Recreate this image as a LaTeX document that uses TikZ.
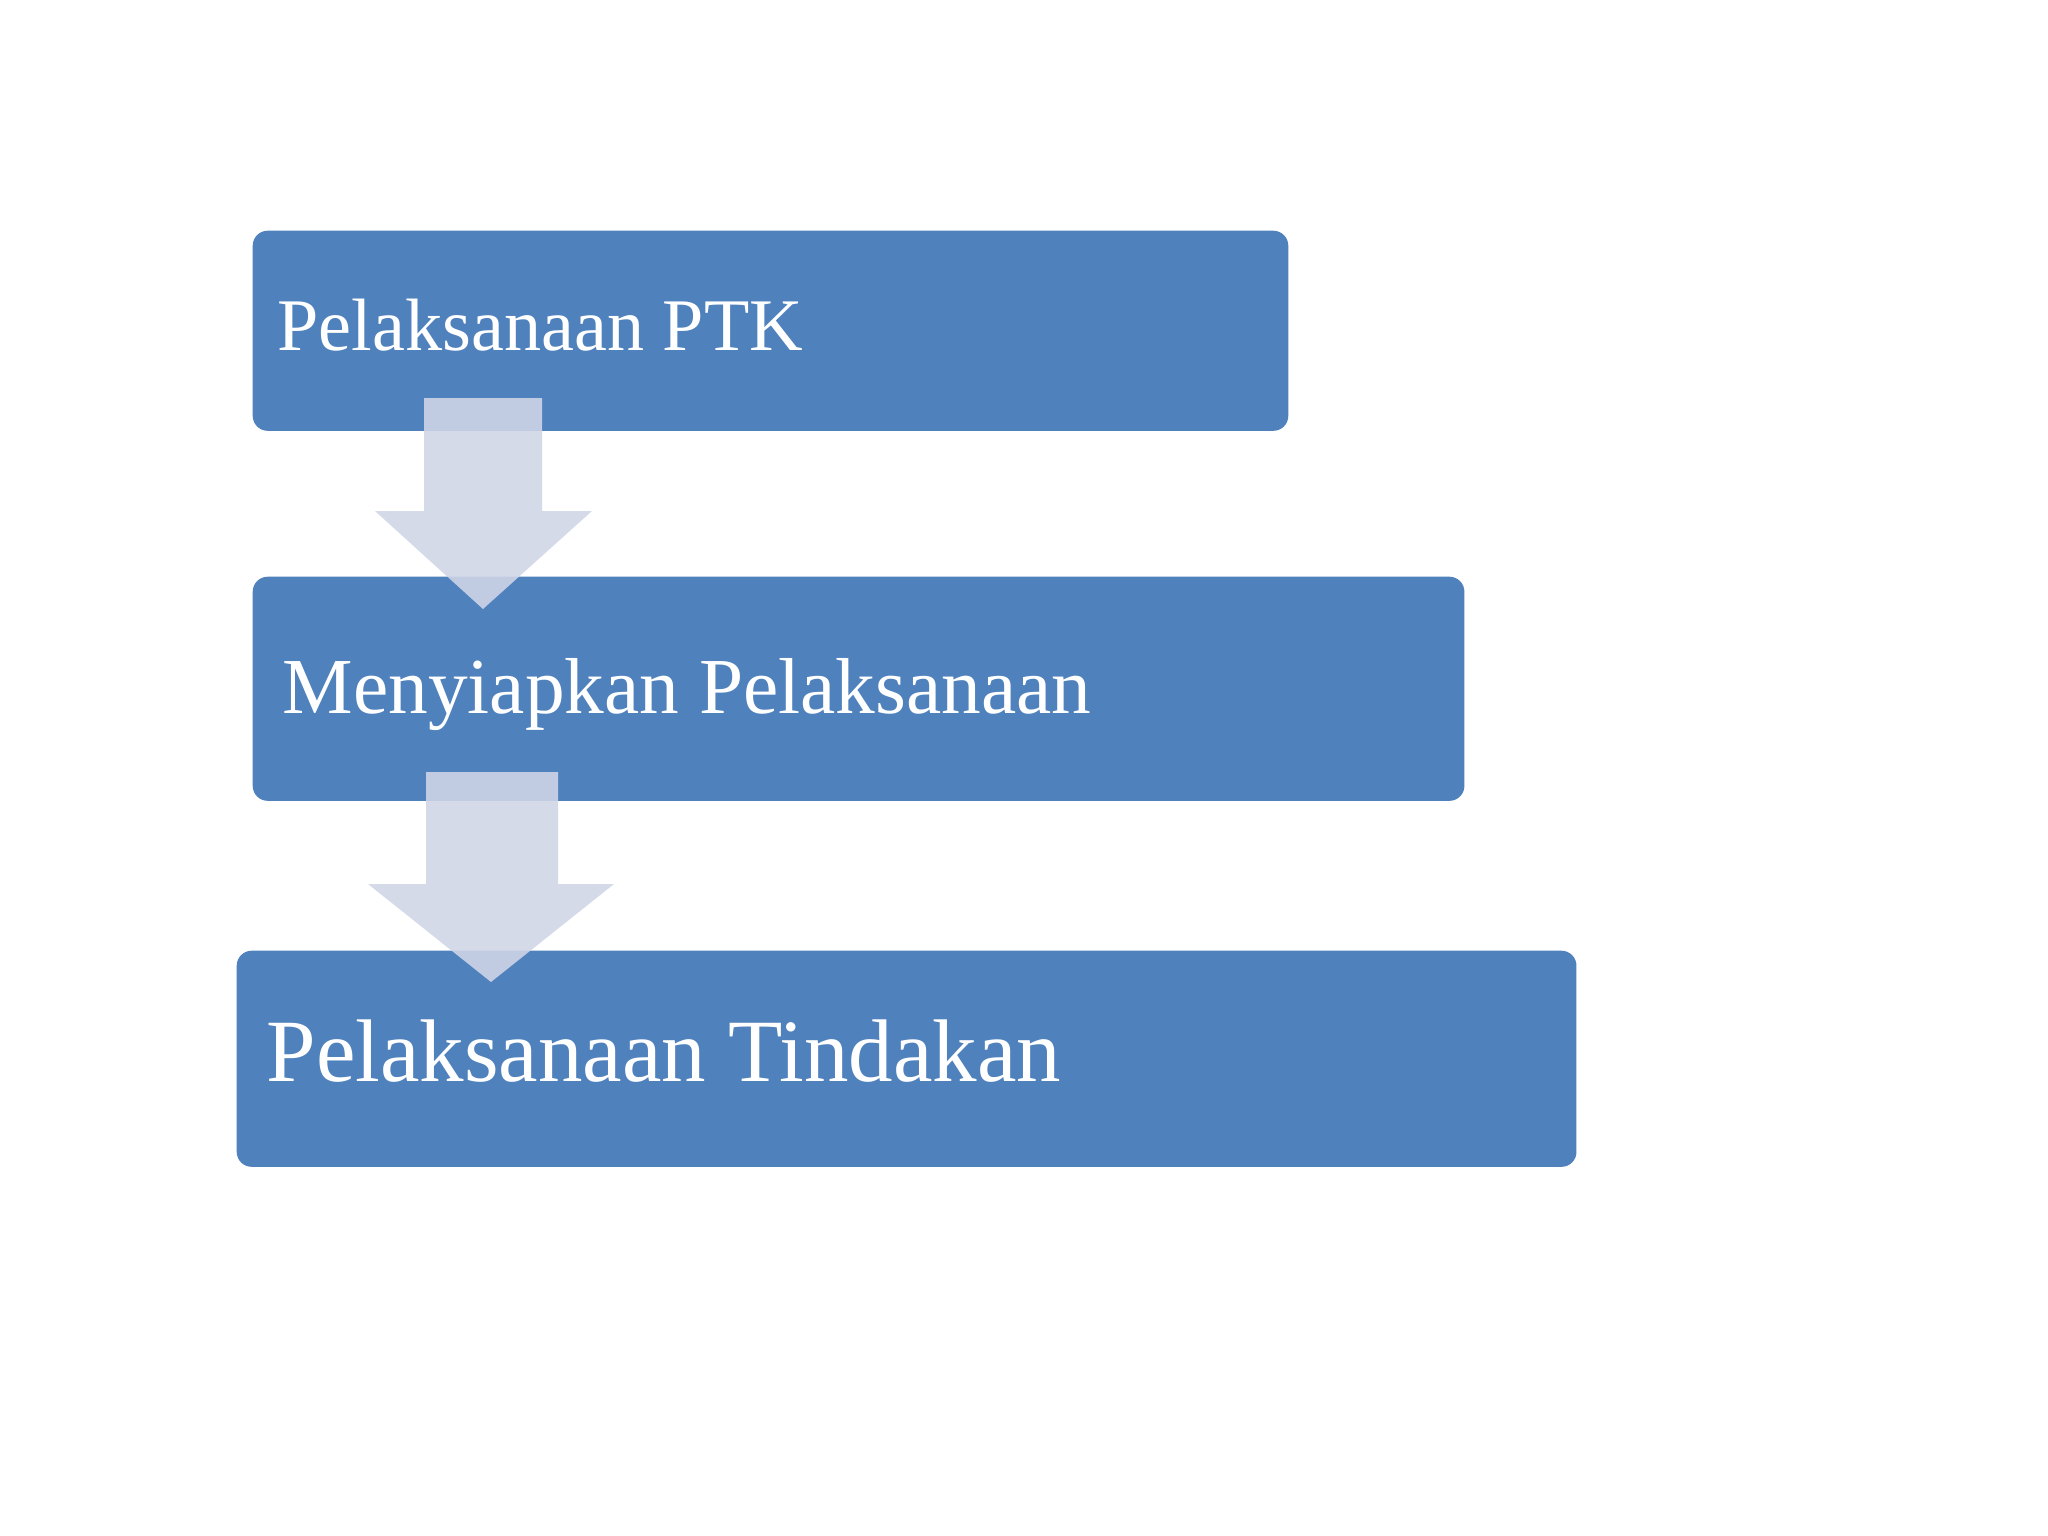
\documentclass[tikz,border=0pt]{standalone}
\usepackage{fontspec}
\setmainfont{Liberation Serif}
\usepackage{graphicx}
\definecolor{boxblue}{RGB}{79,129,189}
\definecolor{arrowfill}{RGB}{208,214,231}
\tikzset{
  stagebox/.style={fill=boxblue, draw=none, rounded corners=0.15cm, anchor=north west, inner sep=0pt},
  stagetext/.style={anchor=base west, inner sep=0pt, text=white},
  blockarrow/.style={fill=arrowfill, fill opacity=0.89, draw=none}
}
\begin{document}
\begin{tikzpicture}[x=0.01cm, y=-0.01cm]
\useasboundingbox[fill=white] (0,0) rectangle (2048,1536);
% boxes
\node[stagebox, minimum width=10.35cm, minimum height=2.00cm] (b1) at (252,230) {};
\node[stagebox, minimum width=12.11cm, minimum height=2.24cm] (b2) at (252,576) {};
\node[stagebox, minimum width=13.39cm, minimum height=2.16cm] (b3) at (236,950) {};
% texts
\node[stagetext] (t1) at (277,350) {\resizebox{5.25cm}{!}{Pelaksanaan PTK}};
\node[stagetext] (t2) at (282,713) {\resizebox{8.08cm}{!}{Menyiapkan Pelaksanaan}};
\node[stagetext] (t3) at (266,1081) {\resizebox{7.94cm}{!}{Pelaksanaan Tindakan}};
% arrows
\coordinate (a1) at (483,398);
\coordinate (a2) at (492,772);
\fill[blockarrow] (424,398) -- (542,398) -- (542,511) -- (592,511) -- (483,609) -- (375,511) -- (424,511) -- cycle;
\fill[blockarrow] (426,772) -- (558,772) -- (558,884) -- (614,884) -- (491,982) -- (368,884) -- (426,884) -- cycle;
\end{tikzpicture}
\end{document}
